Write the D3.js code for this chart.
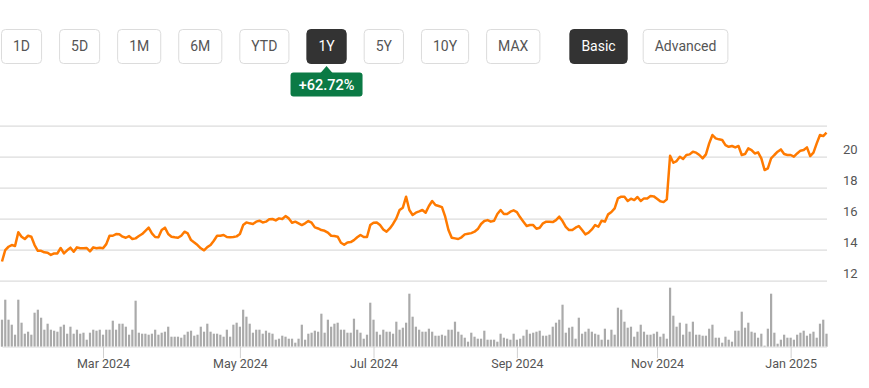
<!DOCTYPE html>
<html>
<head>
<meta charset="utf-8">
<script src="https://cdn.jsdelivr.net/npm/d3@7"></script>
<style>
  body { margin: 0; background: #fff; }
  svg { display: block; font-family: Roboto, "Noto Sans", sans-serif; }
</style>
</head>
<body>
<svg id="chart" width="869" height="388"></svg>
<script>
// range / mode selectors
const ranges = ['1D', '5D', '1M', '6M', 'YTD', '1Y', '5Y', '10Y', 'MAX'];
const modes = ['Basic', 'Advanced'];
const activeRange = '1Y';
const activeMode = 'Basic';
const changeLabel = '+62.72%';

// trading calendar
const firstDay = '2024-01-17';
const lastDay = '2025-01-17';
const holidays = ['2024-02-19', '2024-03-29', '2024-05-27', '2024-06-19', '2024-07-04',
                  '2024-09-02', '2024-11-28', '2024-12-25', '2025-01-01'];

// daily close
const prices = [
  13.24, 13.98, 14.19, 14.30, 14.24, 15.12, 14.84, 14.69, 14.90, 14.84,
  14.30, 13.93, 13.93, 13.83, 13.81, 13.66, 13.76, 13.76, 14.11, 13.76,
  13.96, 14.13, 13.87, 14.15, 14.09, 14.09, 14.11, 13.89, 14.15, 14.09,
  14.13, 14.09, 14.36, 14.90, 14.90, 15.01, 14.99, 14.84, 14.77, 14.88,
  14.69, 14.73, 14.88, 15.01, 15.22, 15.42, 15.05, 14.82, 14.80, 15.27,
  15.42, 15.01, 14.84, 14.80, 14.77, 14.90, 15.16, 15.05, 14.62, 14.47,
  14.30, 14.09, 13.96, 14.17, 14.30, 14.58, 14.90, 14.90, 14.95, 14.82,
  14.80, 14.82, 14.86, 15.01, 15.59, 15.76, 15.70, 15.66, 15.81, 15.87,
  15.76, 15.81, 15.96, 15.98, 15.89, 16.02, 15.98, 16.17, 16.02, 15.74,
  15.81, 15.70, 15.59, 15.70, 15.85, 15.74, 15.44, 15.37, 15.27, 15.22,
  15.10, 14.90, 14.88, 14.84, 14.45, 14.32, 14.47, 14.49, 14.62, 14.80,
  14.95, 14.82, 14.82, 15.59, 15.74, 15.76, 15.59, 15.31, 15.16, 15.37,
  15.66, 16.02, 16.56, 16.71, 17.42, 16.56, 16.24, 16.39, 16.47, 16.56,
  16.39, 16.82, 17.14, 16.88, 16.82, 16.75, 16.13, 15.27, 14.77, 14.73,
  14.69, 14.80, 14.99, 15.03, 15.07, 15.16, 15.33, 15.66, 15.85, 15.91,
  15.81, 15.87, 16.30, 16.56, 16.30, 16.30, 16.45, 16.54, 16.43, 16.09,
  15.81, 15.53, 15.59, 15.59, 15.35, 15.42, 15.70, 15.81, 15.81, 15.78,
  15.91, 16.13, 15.85, 15.48, 15.27, 15.27, 15.42, 15.53, 15.27, 14.99,
  15.10, 15.31, 15.59, 15.48, 15.87, 15.81, 16.28, 16.43, 16.67, 17.31,
  17.42, 17.42, 17.14, 17.29, 17.20, 17.40, 17.14, 17.31, 17.31, 17.46,
  17.44, 17.29, 17.12, 17.07, 17.25, 20.06, 19.61, 19.72, 20.00, 19.85,
  20.11, 20.15, 20.32, 20.26, 20.11, 19.89, 20.15, 20.86, 21.40, 21.18,
  21.12, 21.08, 20.75, 20.64, 20.69, 20.60, 20.69, 20.11, 20.17, 20.54,
  20.43, 20.21, 20.28, 19.89, 19.14, 19.25, 19.89, 20.11, 20.32, 20.47,
  20.17, 20.11, 20.11, 20.00, 20.21, 20.39, 20.43, 20.60, 20.04, 20.26,
  20.86, 21.40, 21.33, 21.55
];

// daily volume (relative units)
const volume = [
  27, 47, 27, 22, 12, 47, 24, 13, 15, 12,
  34, 37, 29, 17, 23, 17, 16, 15, 20, 22,
  13, 20, 13, 17, 13, 14, 7, 14, 17, 16,
  17, 12, 17, 17, 26, 17, 23, 23, 20, 12,
  17, 46, 14, 13, 13, 12, 13, 17, 12, 14,
  15, 20, 10, 10, 10, 9, 12, 15, 16, 11,
  12, 20, 15, 23, 15, 13, 13, 12, 10, 17,
  10, 22, 24, 20, 37, 30, 23, 14, 17, 17,
  13, 16, 14, 13, 7, 8, 11, 10, 8, 8,
  4, 8, 22, 7, 13, 14, 16, 15, 33, 14,
  27, 20, 23, 24, 17, 17, 14, 14, 28, 17,
  14, 8, 12, 44, 27, 15, 12, 17, 15, 15,
  13, 25, 17, 19, 24, 53, 30, 20, 17, 15,
  15, 18, 15, 11, 11, 12, 11, 17, 17, 25,
  15, 12, 9, 5, 14, 10, 8, 8, 16, 7,
  7, 7, 5, 13, 9, 8, 7, 13, 7, 8,
  11, 17, 13, 14, 15, 16, 11, 11, 12, 20,
  24, 27, 42, 14, 19, 20, 8, 29, 13, 15,
  18, 15, 13, 12, 7, 18, 7, 17, 12, 39,
  37, 25, 19, 20, 10, 15, 22, 15, 12, 12,
  13, 15, 10, 13, 8, 59, 31, 20, 24, 12,
  23, 15, 25, 12, 12, 11, 11, 18, 22, 9,
  9, 4, 10, 7, 5, 16, 16, 35, 19, 24,
  15, 14, 9, 13, 1, 18, 53, 14, 3, 7,
  12, 9, 9, 7, 12, 14, 16, 11, 13, 15,
  9, 23, 27, 13
];

const priceTicks = [12, 14, 16, 18, 20, 22];
const priceLabels = [12, 14, 16, 18, 20];
const dateTicks = ['2024-03-01', '2024-05-01', '2024-07-01', '2024-09-03', '2024-11-01', '2025-01-02'];
const dateTickLabels = ['Mar 2024', 'May 2024', 'Jul 2024', 'Sep 2024', 'Nov 2024', 'Jan 2025'];

// build the list of trading days
const days = [];
for (let d = new Date(firstDay + 'T00:00:00Z'); d <= new Date(lastDay + 'T00:00:00Z'); d.setUTCDate(d.getUTCDate() + 1)) {
  const key = d.toISOString().slice(0, 10);
  const wd = d.getUTCDay();
  if (wd !== 0 && wd !== 6 && !holidays.includes(key)) days.push(key);
}

const svg = d3.select('#chart');

// ---- buttons ----
const btnY = 29.5;
const btnH = 34;
const centers = {};

function drawButtons(labels, active, start, gap) {
  let x = start;
  labels.forEach(label => {
    const on = label === active;
    const g = svg.append('g');
    const rect = g.append('rect')
                  .attr('y', btnY)
                  .attr('height', btnH)
                  .attr('rx', 4)
                  .attr('fill', on ? '#333333' : '#ffffff')
                  .attr('stroke', on ? '#333333' : '#dcdcdc')
                  .attr('stroke-width', 1);
    const text = g.append('text')
                  .attr('y', btnY + btnH / 2)
                  .attr('dy', '0.35em')
                  .attr('text-anchor', 'middle')
                  .attr('font-size', 14)
                  .attr('fill', on ? '#ffffff' : '#555555')
                  .text(label);
    const w = text.node().getComputedTextLength() + 23;
    rect.attr('x', x).attr('width', w);
    text.attr('x', x + w / 2);
    centers[label] = x + w / 2;
    x += w + gap;
  });
  return x - gap;
}

const rangesEnd = drawButtons(ranges, activeRange, 1.5, 18);
drawButtons(modes, activeMode, rangesEnd + 30, 16);

// change badge under the active range
const cx = centers[activeRange];
const badge = svg.append('g');
badge.append('path')
     .attr('d', `M${cx - 6},73 L${cx},66 L${cx + 6},73 Z`)
     .attr('fill', '#0b7a45');
badge.append('rect')
     .attr('x', cx - 36)
     .attr('y', 72.5)
     .attr('width', 72)
     .attr('height', 24)
     .attr('rx', 3)
     .attr('fill', '#0b7a45');
badge.append('text')
     .attr('x', cx)
     .attr('y', 84.5)
     .attr('dy', '0.35em')
     .attr('text-anchor', 'middle')
     .attr('font-size', 14.5)
     .attr('font-weight', 500)
     .attr('fill', '#ffffff')
     .text(changeLabel);

// ---- scales ----
const xScale = d3.scalePoint()
                 .domain(days)
                 .range([2, 826.5]);

const yScale = d3.scaleLinear()
                 .domain([12, 22])
                 .range([280.7, 125.7]);

const vScale = d3.scaleLinear()
                 .domain([0, 60])
                 .range([346.7, 286.7]);

// ---- price grid + labels ----
const yAxis = d3.axisRight(yScale)
                .tickValues(priceTicks)
                .tickSize(-827)
                .tickPadding(16)
                .tickFormat(d => priceLabels.includes(d) ? d : '');

svg.append('g')
   .attr('transform', 'translate(827, 0)')
   .call(yAxis)
   .call(g => g.select('.domain').remove())
   .call(g => g.selectAll('.tick line').attr('stroke', '#dcdcdc').attr('stroke-width', 1.2))
   .call(g => g.selectAll('.tick text')
               .attr('dy', '-0.25em')
               .attr('fill', '#555555')
               .attr('font-size', 13)
               .attr('font-family', 'Roboto, sans-serif'));

// ---- volume bars ----
svg.append('g')
   .selectAll('rect')
   .data(volume)
   .enter()
   .append('rect')
   .attr('x', (d, i) => xScale(days[i]) - 1.1)
   .attr('y', d => vScale(d))
   .attr('width', 2.2)
   .attr('height', d => vScale(0) - vScale(d))
   .attr('fill', '#aaaaaa');

// ---- price line ----
const line = d3.line()
               .x((d, i) => xScale(days[i]))
               .y(d => yScale(d));

svg.append('path')
   .datum(prices)
   .attr('d', line)
   .attr('fill', 'none')
   .attr('stroke', '#ff7a00')
   .attr('stroke-width', 2.5)
   .attr('stroke-linejoin', 'round');

// ---- date axis ----
const xAxis = d3.axisBottom(xScale)
                .tickValues(dateTicks)
                .tickSize(11.5)
                .tickSizeOuter(0)
                .tickPadding(1)
                .tickFormat((d, i) => dateTickLabels[i]);

svg.append('g')
   .attr('transform', 'translate(0, 346.7)')
   .call(xAxis)
   .call(g => g.select('.domain').attr('stroke', '#e3e3e3'))
   .call(g => g.selectAll('.tick line').attr('stroke', '#d0d0d0'))
   .call(g => g.selectAll('.tick text')
               .attr('fill', '#555555')
               .attr('font-size', 12.5)
               .attr('font-family', 'Roboto, sans-serif'));
</script>
</body>
</html>
